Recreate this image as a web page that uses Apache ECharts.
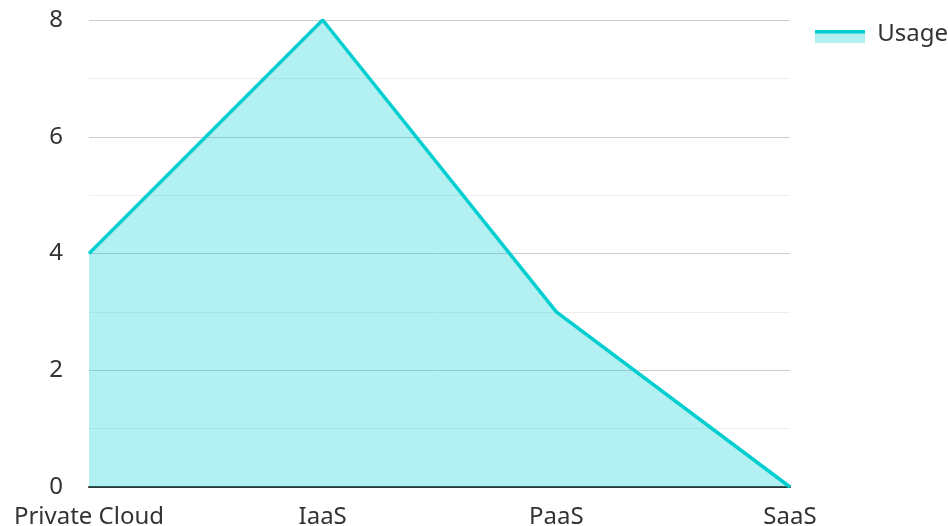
<!DOCTYPE html>
<html>
<head>
<meta charset="utf-8">
<script src="https://cdn.jsdelivr.net/npm/echarts@6/dist/echarts.min.js"></script>
<style>
  html, body { margin: 0; padding: 0; background: #fff; }
  #chart { width: 948px; height: 526px; }
</style>
</head>
<body>
<div id="chart"></div>
<script>
// Cloud service model usage
const categories = ['Private Cloud', 'IaaS', 'PaaS', 'SaaS'];
const usage = [4, 8, 3, 0];
const seriesName = 'Usage';

const lineColor = '#00CED1';
const areaColor = 'rgba(0, 206, 209, 0.3)';
const fontFamily = '"Noto Sans", sans-serif';
const fontSize = 24;

const chart = echarts.init(document.getElementById('chart'));
chart.setOption({
  animation: false,
  textStyle: { fontFamily: fontFamily },
  legend: {
    data: [seriesName],
    right: 0,
    top: 22,
    padding: 0,
    icon: 'rect',
    itemWidth: 50,
    itemHeight: 13,
    itemGap: 8,
    itemStyle: { color: 'rgba(0,0,0,0)', borderWidth: 0 },
    textStyle: { fontSize: fontSize, color: '#333', fontFamily: fontFamily, padding: [0, 0, 8, 6] }
  },
  // legend swatch: filled area with the line stroke along its top
  graphic: [{
    type: 'rect',
    right: 83,
    top: 30,
    shape: { width: 50, height: 13 },
    style: { fill: areaColor },
    silent: true
  }, {
    type: 'rect',
    right: 83,
    top: 30,
    shape: { width: 50, height: 3.5 },
    style: { fill: lineColor },
    silent: true
  }],
  grid: { left: 89, right: 158, top: 20, bottom: 39, outerBoundsMode: 'none', containLabel: false },
  xAxis: {
    type: 'category',
    data: categories,
    boundaryGap: false,
    axisLine: { lineStyle: { color: '#333', width: 2 } },
    axisTick: { show: false },
    axisLabel: { fontSize: fontSize, color: '#333', margin: 18, fontFamily: fontFamily }
  },
  yAxis: {
    type: 'value',
    min: 0,
    max: 8,
    interval: 2,
    axisLine: { show: false },
    axisTick: { show: false },
    axisLabel: { fontSize: fontSize, color: '#333', margin: 26, fontFamily: fontFamily },
    splitLine: { lineStyle: { color: '#ccc', width: 1 } },
    minorTick: { show: false, splitNumber: 2 },
    minorSplitLine: { show: true, lineStyle: { color: '#eee', width: 1 } }
  },
  series: [{
    name: seriesName,
    type: 'line',
    data: usage,
    symbol: 'none',
    lineStyle: { color: lineColor, width: 3.5 },
    itemStyle: { color: lineColor },
    areaStyle: { color: lineColor, opacity: 0.3 }
  }]
});
</script>
</body>
</html>
